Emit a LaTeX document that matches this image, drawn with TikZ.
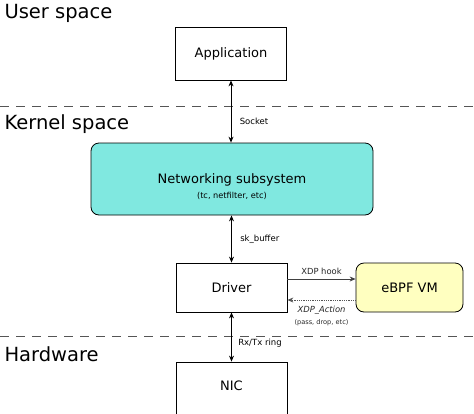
\documentclass[tikz,border=0pt]{standalone}
\usepackage{fontspec}
\setmainfont{DejaVu Sans}
\usetikzlibrary{positioning,arrows.meta}
\definecolor{netcyan}{HTML}{80E8E0}
\definecolor{vmyellow}{HTML}{FFFFC0}
\definecolor{linegray}{HTML}{555555}

\begin{document}
\begin{tikzpicture}[x=1pt,y=-1pt,
  >={Stealth[length=6pt,width=5pt]},
  box/.style={rectangle, draw, line width=0.8pt, minimum width=111pt, font=\fontsize{13}{15}\selectfont},
  rbox/.style={rectangle, draw, rounded corners=8pt, line width=0.8pt, font=\fontsize{13}{15}\selectfont},
  link/.style={<->, line width=0.9pt},
  lbl/.style={font=\fontsize{8.5}{10}\selectfont, anchor=west},
  layer/.style={font=\fontsize{19.5}{22}\selectfont, anchor=west}]
\useasboundingbox (0,0) rectangle (474,413);
\begin{scope}
\clip (0,0) rectangle (474,413);
% layers
\draw[dashed, linegray, line width=1pt, dash pattern=on 9pt off 7pt] (0,106)--(474,106);
\draw[dashed, linegray, line width=1pt, dash pattern=on 9pt off 7pt] (0,336)--(474,336);
\node[layer] (user) at (1,13) {User space};
\node[layer] (kernel) at (1,124) {Kernel space};
\node[layer] (hw) at (1,354) {Hardware};
% blocks
\node[box, minimum height=53pt] (app) at (231,53.5) {Application};
\node[rbox, fill=netcyan, minimum width=282pt, minimum height=72pt] (net) at (232,179) {};
\node[align=center, font=\fontsize{13}{15}\selectfont] (nettext) at ([yshift=-7.5pt]net.center)
  {Networking subsystem\\[0pt]{\fontsize{8.2}{9}\selectfont (tc, netfilter, etc)}};
\node[box, minimum height=49pt] (drv) at (231.5,287.5) {Driver};
\node[rbox, fill=vmyellow, minimum width=107pt, minimum height=49pt] (vm) at (409.5,287.5) {eBPF VM};
\node[box, minimum height=70pt, label={[font=\fontsize{13}{15}\selectfont, yshift=11pt]center:NIC}, yshift=-11pt] (nic) at (231.5,386) {};
% links
\draw[link] (app.south) -- (app.south |- net.north) node[midway, lbl, xshift=5pt, yshift=-10pt] {Socket};
\draw[link] (net.south -| drv.north) -- (drv.north) node[midway, lbl, xshift=5pt] {sk\_buffer};
\draw[link] (drv.south) -- (nic.north) node[midway, lbl, xshift=3pt, yshift=-6pt] {Rx/Tx ring};
\coordinate (hookA) at (drv.east |- 0,279);
\coordinate (hookB) at (vm.west |- 0,279);
\draw[->, line width=0.8pt, black!75] (hookA) -- (hookB)
  node[midway, above=1pt, text=black!85, font=\fontsize{8.4}{10}\selectfont] {XDP hook};
\coordinate (actA) at (vm.west |- 0,300);
\coordinate (actB) at (drv.east |- 0,300);
\draw[->, line width=0.8pt, linegray, densely dotted] (actA) -- (actB)
  node[midway, below=2pt, text=black!85, font=\fontsize{8.4}{10}\selectfont\itshape] (act) {XDP\_Action};
\node[below=-2pt of act, text=black!85, font=\fontsize{6.6}{8}\selectfont] (actnote) {(pass, drop, etc)};
\end{scope}
\end{tikzpicture}
\end{document}
